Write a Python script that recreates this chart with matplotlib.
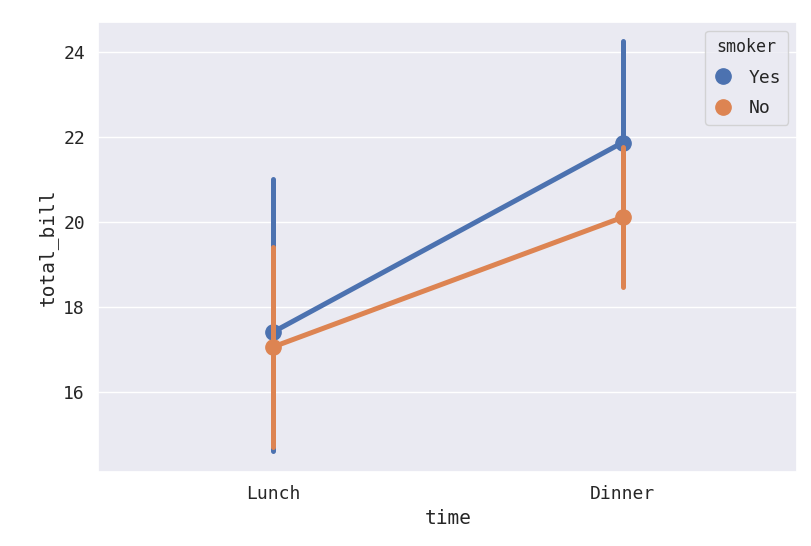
import numpy as np
import matplotlib.pyplot as plt
import seaborn as sns

sns.set_theme(style="darkgrid")
plt.rcParams['font.family'] = ['DejaVu Sans Mono', 'DejaVu Sans']

times = ["Lunch", "Dinner"]
smokers = ["Yes", "No"]
means = {"Yes": [17.40, 21.86], "No": [17.05, 20.10]}
ci_low = {"Yes": [14.6, 19.6], "No": [14.7, 18.45]}
ci_high = {"Yes": [21.0, 24.25], "No": [19.4, 21.75]}
colors = {"Yes": "#4c72b0", "No": "#dd8452"}

fig = plt.figure(figsize=(8.12, 5.46), dpi=100)
ax = fig.add_axes([0.121, 0.135, 0.861, 0.825])
x = np.arange(len(times))
for s in smokers:
    c = colors[s]
    for i in x:
        ax.plot([i, i], [ci_low[s][i], ci_high[s][i]], color=c, lw=3.6, solid_capstyle='round')
    ax.plot(x, means[s], color=c, lw=3.6, marker='o', ms=11, label=s)

ax.set_xlim(-0.5, 1.5)
ax.set_ylim(14.1, 24.7)
ax.set_xticks(x)
ax.set_xticklabels(times)
ax.set_yticks([16, 18, 20, 22, 24])
ax.grid(axis='x', visible=False)
ax.tick_params(labelsize=13)
ax.set_xlabel("time", fontsize=14)
ax.set_ylabel("total_bill", fontsize=14)
leg = ax.legend(title="smoker", fontsize=13, title_fontsize=12, loc="upper right",
                handlelength=1.2, markerscale=1.0, labelspacing=0.7)
for h in leg.legend_handles:
    h.set_linestyle('')
fig.savefig("out.png")
